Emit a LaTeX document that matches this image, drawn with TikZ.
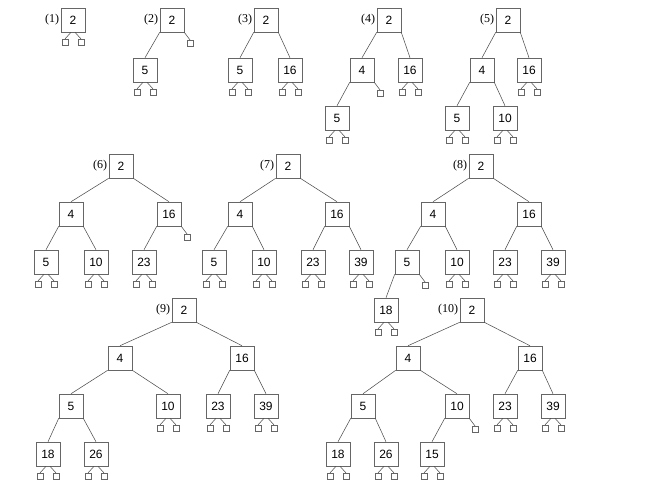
\documentclass[tikz,border=0pt]{standalone}
\usepackage{fontspec}
\setmainfont{Liberation Sans}
\newfontfamily\labfont{Liberation Serif}
\tikzset{
  key/.style={draw=gray!80!black, fill=white, minimum size=18pt, inner sep=0pt, font=\fontsize{9}{10}\selectfont},
  nil/.style={draw=gray!80!black, minimum size=4.5pt, inner sep=0pt},
  lab/.style={anchor=east, inner sep=1pt, font=\labfont\fontsize{9}{10}\selectfont},
  edge/.style={draw=gray!60!black, thin}
}
% both subtrees empty
\newcommand\nulls[1]{%
  \draw[edge] ([xshift=-1.5pt]#1.south) -- ++(-4.5pt,-5pt) node[nil,anchor=north] {};
  \draw[edge] ([xshift=1.5pt]#1.south) -- ++(4.5pt,-5pt) node[nil,anchor=north] {};}
% right subtree empty
\newcommand\nullr[1]{%
  \draw[edge] (#1.south east) -- ++(4.5pt,-6pt) node[nil,anchor=north] {};}
\begin{document}
\begin{tikzpicture}[x=0.75pt,y=-0.75pt]
\useasboundingbox (0,0) rectangle (658,497);
% (1)
\node[key] (a) at (73,20) {2};
\node[lab] at (a.west) {(1)};
\nulls{a}
% (2)
\node[key] (b) at (172,20) {2};
\node[key] (b5) at (145,70) {5};
\node[lab] at (b.west) {(2)};
\draw[edge] (b.south west) -- (b5.north);
\nullr{b} \nulls{b5}
% (3)
\node[key] (c) at (266,20) {2};
\node[key] (c5) at (240,70) {5};
\node[key] (c16) at (290,70) {16};
\node[lab] at (c.west) {(3)};
\draw[edge] (c.south west) -- (c5.north);
\draw[edge] (c.south east) -- (c16.north);
\nulls{c5} \nulls{c16}
% (4)
\node[key] (d) at (389,20) {2};
\node[key] (d4) at (362,70) {4};
\node[key] (d16) at (410,70) {16};
\node[key] (d5) at (337,118) {5};
\node[lab] at (d.west) {(4)};
\draw[edge] (d.south west) -- (d4.north);
\draw[edge] (d.south east) -- (d16.north);
\draw[edge] (d4.south west) -- (d5.north);
\nullr{d4} \nulls{d16} \nulls{d5}
% (5)
\node[key] (e) at (508,20) {2};
\node[key] (e4) at (482,70) {4};
\node[key] (e16) at (529,70) {16};
\node[key] (e5) at (457,118) {5};
\node[key] (e10) at (505,118) {10};
\node[lab] at (e.west) {(5)};
\draw[edge] (e.south west) -- (e4.north);
\draw[edge] (e.south east) -- (e16.north);
\draw[edge] (e4.south west) -- (e5.north);
\draw[edge] (e4.south east) -- (e10.north);
\nulls{e16} \nulls{e5} \nulls{e10}
% (6)
\node[key] (f) at (121,166) {2};
\node[key] (f4) at (71,214) {4};
\node[key] (f16) at (169,214) {16};
\node[key] (f5) at (46,262) {5};
\node[key] (f10) at (96,262) {10};
\node[key] (f23) at (144,262) {23};
\node[lab] at (f.west) {(6)};
\draw[edge] (f.south west) -- (f4.north);
\draw[edge] (f.south east) -- (f16.north);
\draw[edge] (f4.south west) -- (f5.north);
\draw[edge] (f4.south east) -- (f10.north);
\draw[edge] (f16.south west) -- (f23.north);
\nullr{f16} \nulls{f5} \nulls{f10} \nulls{f23}
% (7)
\node[key] (g) at (288,166) {2};
\node[key] (g4) at (240,214) {4};
\node[key] (g16) at (337,214) {16};
\node[key] (g5) at (214,262) {5};
\node[key] (g10) at (264,262) {10};
\node[key] (g23) at (313,262) {23};
\node[key] (g39) at (361,262) {39};
\node[lab] at (g.west) {(7)};
\draw[edge] (g.south west) -- (g4.north);
\draw[edge] (g.south east) -- (g16.north);
\draw[edge] (g4.south west) -- (g5.north);
\draw[edge] (g4.south east) -- (g10.north);
\draw[edge] (g16.south west) -- (g23.north);
\draw[edge] (g16.south east) -- (g39.north);
\nulls{g5} \nulls{g10} \nulls{g23} \nulls{g39}
% (8)
\node[key] (h) at (481,166) {2};
\node[key] (h4) at (433,214) {4};
\node[key] (h16) at (529,214) {16};
\node[key] (h5) at (407,262) {5};
\node[key] (h10) at (457,262) {10};
\node[key] (h23) at (505,262) {23};
\node[key] (h39) at (553,262) {39};
\node[key] (h18) at (386,310) {18};
\node[lab] at (h.west) {(8)};
\draw[edge] (h.south west) -- (h4.north);
\draw[edge] (h.south east) -- (h16.north);
\draw[edge] (h4.south west) -- (h5.north);
\draw[edge] (h4.south east) -- (h10.north);
\draw[edge] (h16.south west) -- (h23.north);
\draw[edge] (h16.south east) -- (h39.north);
\draw[edge] (h5.south west) -- (h18.north);
\nullr{h5} \nulls{h10} \nulls{h23} \nulls{h39} \nulls{h18}
% (9)
\node[key] (k) at (184,310) {2};
\node[key] (k4) at (120,358) {4};
\node[key] (k16) at (242,358) {16};
\node[key] (k5) at (71,406) {5};
\node[key] (k10) at (168,406) {10};
\node[key] (k23) at (218,406) {23};
\node[key] (k39) at (266,406) {39};
\node[key] (k18) at (48,454) {18};
\node[key] (k26) at (96,454) {26};
\node[lab] at (k.west) {(9)};
\draw[edge] (k.south west) -- (k4.north);
\draw[edge] (k.south east) -- (k16.north);
\draw[edge] (k4.south west) -- (k5.north);
\draw[edge] (k4.south east) -- (k10.north);
\draw[edge] (k16.south west) -- (k23.north);
\draw[edge] (k16.south east) -- (k39.north);
\draw[edge] (k5.south west) -- (k18.north);
\draw[edge] (k5.south east) -- (k26.north);
\nulls{k10} \nulls{k23} \nulls{k39} \nulls{k18} \nulls{k26}
% (10)
\node[key] (m) at (472,310) {2};
\node[key] (m4) at (408,358) {4};
\node[key] (m16) at (530,358) {16};
\node[key] (m5) at (363,406) {5};
\node[key] (m10) at (457,406) {10};
\node[key] (m23) at (505,406) {23};
\node[key] (m39) at (553,406) {39};
\node[key] (m18) at (338,454) {18};
\node[key] (m26) at (386,454) {26};
\node[key] (m15) at (432,454) {15};
\node[lab] at (m.west) {(10)};
\draw[edge] (m.south west) -- (m4.north);
\draw[edge] (m.south east) -- (m16.north);
\draw[edge] (m4.south west) -- (m5.north);
\draw[edge] (m4.south east) -- (m10.north);
\draw[edge] (m16.south west) -- (m23.north);
\draw[edge] (m16.south east) -- (m39.north);
\draw[edge] (m5.south west) -- (m18.north);
\draw[edge] (m5.south east) -- (m26.north);
\draw[edge] (m10.south west) -- (m15.north);
\nullr{m10} \nulls{m23} \nulls{m39} \nulls{m18} \nulls{m26} \nulls{m15}
\end{tikzpicture}
\end{document}
